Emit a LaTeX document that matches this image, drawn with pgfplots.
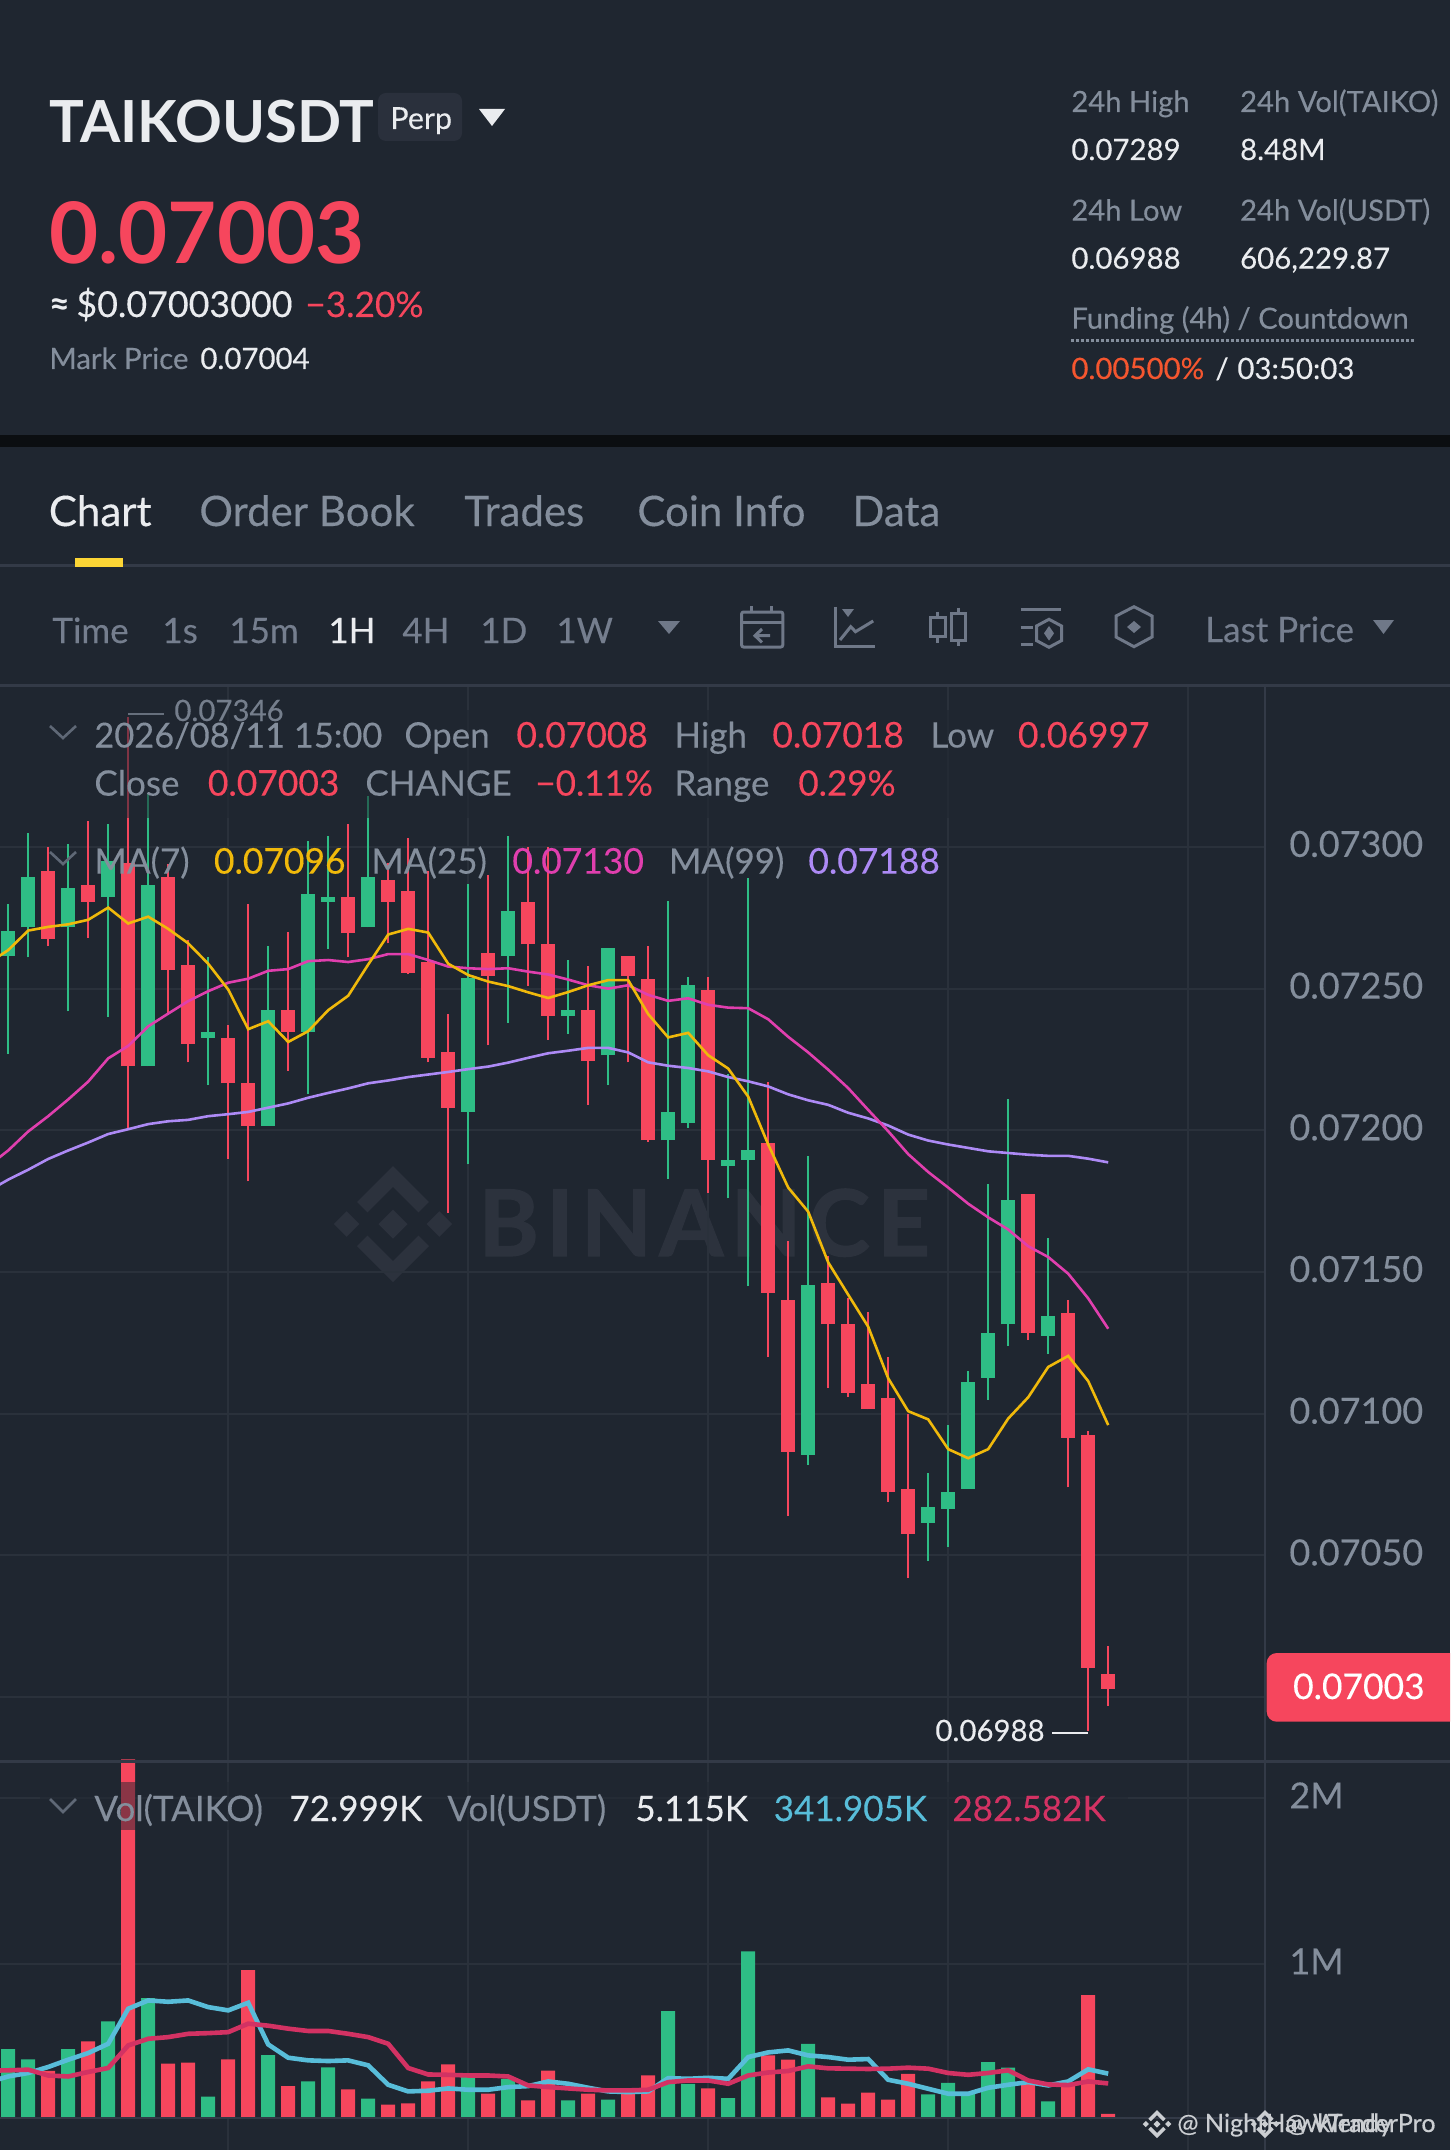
\documentclass[border=0pt]{standalone}
\usepackage{fontspec}
\setmainfont{Lato}[FakeBold=0.25,BoldFeatures={FakeBold=0}]
\newfontfamily\wmfont{Lato Bold}[FakeBold=1.2,LetterSpace=8]
\usepackage{pgfplots}
\usepackage{pgfplotstable}
\pgfplotsset{compat=1.18}
\definecolor{bg}{HTML}{1F2630}
\definecolor{band}{HTML}{0B0E11}
\definecolor{upc}{HTML}{2EBD85}
\definecolor{dnc}{HTML}{F6465D}
\definecolor{gridc}{HTML}{2A313B}
\definecolor{sepc}{HTML}{333A47}
\definecolor{grayt}{HTML}{848E9C}
\definecolor{whitet}{HTML}{EAECEF}
\definecolor{iconc}{HTML}{6F7888}
\definecolor{ma7}{HTML}{F0B90B}
\definecolor{ma25}{HTML}{E03FAE}
\definecolor{ma99}{HTML}{AD8AF5}
\definecolor{volb}{HTML}{58BDD9}
\definecolor{volr}{HTML}{D33263}
\definecolor{wm}{HTML}{2C323D}
\definecolor{fund}{HTML}{F5562F}
\definecolor{pill}{HTML}{2A303C}
\definecolor{tabyellow}{HTML}{FCD535}

% candles: k low high bodybottom bodytop
\pgfplotstableread{
k l h b t
0 0.07227 0.07280 0.072616 0.072705
1 0.07261 0.07305 0.072716 0.072894
3 0.07242 0.07301 0.072716 0.072855
5 0.07240 0.07308 0.072825 0.07295
7 0.072226 0.07319 0.072226 0.072865
10 0.07216 0.07261 0.072326 0.072346
13 0.072017 0.07265 0.072017 0.072425
15 0.07213 0.07302 0.072346 0.072835
16 0.07264 0.07304 0.072805 0.072825
18 0.072716 0.07318 0.072716 0.072894
23 0.07188 0.07287 0.072066 0.072536
25 0.07238 0.07304 0.072616 0.072774
28 0.07234 0.07260 0.072405 0.072425
30 0.07216 0.072644 0.072265 0.072644
33 0.07183 0.07281 0.071965 0.072064
34 0.07201 0.07254 0.072025 0.072514
36 0.07176 0.07220 0.071875 0.071894
37 0.07145 0.07289 0.071896 0.071932
40 0.07082 0.07191 0.070855 0.071453
46 0.07048 0.07079 0.070616 0.070672
47 0.07053 0.07096 0.070664 0.070723
48 0.070735 0.07115 0.070735 0.071113
49 0.07105 0.07181 0.071127 0.071285
50 0.07124 0.07211 0.071315 0.071754
52 0.07121 0.07162 0.071275 0.071344
}\upcandles
\pgfplotstableread{
k l h b t
2 0.07265 0.07300 0.072676 0.072916
4 0.07268 0.07309 0.072806 0.072865
6 0.07201 0.07346 0.072226 0.072945
8 0.07241 0.07294 0.072565 0.072894
9 0.07224 0.07267 0.072306 0.072585
11 0.07190 0.07237 0.072166 0.072326
12 0.07182 0.07280 0.072017 0.072166
14 0.07221 0.07270 0.072346 0.072425
17 0.07261 0.07308 0.072695 0.072825
19 0.07266 0.072945 0.072806 0.072885
20 0.07255 0.07303 0.072555 0.072845
21 0.07224 0.072916 0.072256 0.072595
22 0.07171 0.07241 0.072078 0.072275
24 0.07230 0.07290 0.072545 0.072626
26 0.07251 0.07300 0.072656 0.072805
27 0.07232 0.07300 0.072405 0.072656
29 0.07209 0.07258 0.072246 0.072425
31 0.07224 0.072614 0.072545 0.072614
32 0.07196 0.07265 0.071965 0.072534
35 0.07178 0.07254 0.071896 0.072496
38 0.07120 0.07217 0.071427 0.071954
39 0.07064 0.07161 0.070865 0.071403
41 0.07109 0.071555 0.071315 0.071463
42 0.07106 0.07141 0.071074 0.071315
43 0.071015 0.07136 0.071015 0.071104
44 0.07069 0.07120 0.070725 0.071054
45 0.07042 0.07100 0.070575 0.070733
51 0.07126 0.071774 0.071285 0.071774
53 0.07074 0.07140 0.070916 0.071354
54 0.06988 0.07094 0.070104 0.070924
55 0.06997 0.07018 0.07003 0.07008
}\dncandles
\pgfplotstableread{
k m7 m25 m99
-1 0.07259 0.071874 0.071786
0 0.072636 0.071929 0.071826
1 0.072705 0.071996 0.071861
2 0.072718 0.07205 0.071899
3 0.072727 0.072109 0.071929
4 0.072743 0.072172 0.071957
5 0.072786 0.072254 0.071987
6 0.07273 0.072298 0.072004
7 0.072754 0.072367 0.072022
8 0.072711 0.072412 0.072032
9 0.07266 0.072456 0.072037
10 0.072588 0.072491 0.07205
11 0.072497 0.072521 0.072057
12 0.072357 0.072535 0.072065
13 0.072385 0.072563 0.07208
14 0.072312 0.072569 0.072095
15 0.07235 0.072597 0.072115
16 0.072424 0.072601 0.072132
17 0.072475 0.072594 0.072148
18 0.072585 0.072604 0.072166
19 0.072691 0.072622 0.072176
20 0.072711 0.072622 0.072188
21 0.072698 0.072601 0.072197
22 0.072588 0.072578 0.072206
23 0.072548 0.072572 0.072216
24 0.072525 0.072569 0.072225
25 0.072509 0.072572 0.072239
26 0.072487 0.07256 0.072256
27 0.072467 0.07255 0.072272
28 0.072488 0.072532 0.072281
29 0.072512 0.072512 0.072291
30 0.07253 0.0725 0.072291
31 0.07253 0.072512 0.072275
32 0.07241 0.072478 0.07224
33 0.072328 0.072457 0.072228
34 0.072344 0.072466 0.07222
35 0.072265 0.072443 0.072208
36 0.072218 0.072433 0.072188
37 0.072119 0.072431 0.072173
38 0.07195 0.072392 0.072155
39 0.071798 0.07233 0.072127
40 0.071713 0.072275 0.072106
41 0.071534 0.072214 0.07209
42 0.07142 0.072149 0.072062
43 0.071307 0.072072 0.072042
44 0.071125 0.071997 0.072017
45 0.071009 0.071916 0.071985
46 0.07098 0.071853 0.071964
47 0.070875 0.071798 0.07195
48 0.070843 0.071741 0.071938
49 0.070875 0.071693 0.071926
50 0.070983 0.07165 0.07192
51 0.071058 0.071591 0.071914
52 0.071165 0.071553 0.07191
53 0.071204 0.071494 0.07191
54 0.071115 0.071407 0.0719
55 0.07096 0.0713 0.071887
}\matable
\pgfplotstableread{
k v
0 0.490
1 0.428
3 0.490
5 0.657
7 0.797
10 0.203
13 0.454
15 0.295
16 0.380
18 0.191
23 0.321
25 0.311
28 0.181
30 0.185
33 0.719
34 0.281
36 0.195
37 1.078
40 0.522
46 0.217
47 0.287
48 0.221
49 0.412
50 0.378
52 0.175
}\upvol
\pgfplotstableread{
k v
2 0.358
4 0.536
6 2.235
8 0.402
9 0.408
11 0.428
12 0.966
14 0.267
17 0.247
19 0.155
20 0.163
21 0.295
22 0.398
24 0.221
26 0.181
27 0.360
29 0.221
31 0.221
32 0.331
35 0.253
38 0.452
39 0.426
41 0.199
42 0.161
43 0.227
44 0.185
45 0.341
51 0.291
53 0.281
54 0.815
55 0.100
}\dnvol
\pgfplotstableread{
k bl rd
-1 0.29 0.36
0 0.325 0.362
1 0.346 0.366
2 0.382 0.331
3 0.426 0.325
4 0.466 0.352
5 0.522 0.376
6 0.733 0.512
7 0.783 0.552
8 0.775 0.562
9 0.783 0.582
10 0.743 0.586
11 0.723 0.592
12 0.769 0.643
13 0.518 0.631
14 0.438 0.613
15 0.422 0.599
16 0.418 0.599
17 0.422 0.582
18 0.392 0.562
19 0.275 0.522
20 0.235 0.376
21 0.239 0.337
22 0.253 0.335
23 0.245 0.331
24 0.245 0.331
25 0.261 0.325
26 0.267 0.271
27 0.295 0.261
28 0.281 0.253
29 0.257 0.245
30 0.235 0.241
31 0.231 0.241
32 0.235 0.245
33 0.315 0.291
34 0.311 0.301
35 0.317 0.301
36 0.311 0.281
37 0.442 0.331
38 0.470 0.349
39 0.482 0.358
40 0.452 0.386
41 0.442 0.374
42 0.426 0.372
43 0.430 0.370
44 0.305 0.372
45 0.281 0.378
46 0.251 0.372
47 0.221 0.346
48 0.221 0.335
49 0.257 0.346
50 0.275 0.362
51 0.291 0.301
52 0.271 0.277
53 0.295 0.273
54 0.368 0.295
55 0.342 0.283
}\volma

\newcommand{\T}[5]{\node[anchor=base west,inner sep=0pt,text=#4,font=\fontsize{#3}{#3}\selectfont] at (#1,#2) {#5};}
\newcommand{\binlogo}[4]{%
 \begin{scope}[shift={(#1,#2)},x=#3*0.5pt,y=-#3*0.5pt]
 \fill[#4] (0,-1)--(.62,-.38)--(.44,-.2)--(0,-.64)--(-.44,-.2)--(-.62,-.38)--cycle;
 \fill[#4] (0,1)--(.62,.38)--(.44,.2)--(0,.64)--(-.44,.2)--(-.62,.38)--cycle;
 \fill[#4] (0,-.25)--(.25,0)--(0,.25)--(-.25,0)--cycle;
 \fill[#4] (-.8,-.22)--(-.58,0)--(-.8,.22)--(-1.02,0)--cycle;
 \fill[#4] (.8,-.22)--(1.02,0)--(.8,.22)--(.58,0)--cycle;
 \end{scope}}
\newcommand{\candleplots}[2]{%
 \addplot[draw=none,mark=none,forget plot,error bars/.cd,y dir=plus,y explicit,error mark=none,
   error bar style={draw=#2,line width=1.25pt}]
   table[x=k,y=l,y error expr=\thisrow{h}-\thisrow{l}] {#1};
 \addplot[draw=none,mark=none,forget plot,error bars/.cd,y dir=plus,y explicit,error mark=none,
   error bar style={draw=#2,line width=7pt}]
   table[x=k,y=b,y error expr=\thisrow{t}-\thisrow{b}] {#1};
}
\pgfplotsset{panel/.style={
  scale only axis,width=632.5pt,xmin=-0.41,xmax=62.84,
  axis line style={draw=none},major tick length=0pt,tick style={draw=none},
  xtick={11,23,35,47,59},xticklabel=\empty,scaled y ticks=false,
  xmajorgrids,ymajorgrids,grid style={draw=gridc,line width=1pt},
  yticklabel pos=right,
  yticklabel style={anchor=west,inner sep=0pt,xshift=12pt,yshift=1.5pt,text=grayt,font=\fontsize{18}{18}\selectfont},
}}

\begin{document}
\begin{tikzpicture}
\useasboundingbox (0pt,0pt) rectangle (725pt,-1075pt);
\clip (0pt,0pt) rectangle (725pt,-1075pt);
\begin{scope}[x=0.5pt,y=-0.5pt]
\fill[bg] (0,0) rectangle (1450,2150);
\fill[band] (0,435) rectangle (1450,447);
% watermark
\binlogo{393}{1224}{58}{wm}
\node[anchor=base west,inner sep=0pt,text=wm,font=\fontsize{46}{46}\wmfont] at (478,1256) {BINANCE};
\end{scope}

\begin{axis}[panel,at={(0pt,-880pt)},anchor=south west,height=537pt,
  ymin=0.069778,ymax=0.073568,
  ytick={0.0700,0.0705,0.0710,0.0715,0.0720,0.0725,0.0730},
  yticklabels={,0.07050,0.07100,0.07150,0.07200,0.07250,0.07300}]
\candleplots{\upcandles}{upc}
\candleplots{\dncandles}{dnc}
\addplot[ma99,line width=1.3pt,forget plot] table[x=k,y=m99] {\matable};
\addplot[ma25,line width=1.3pt,forget plot] table[x=k,y=m25] {\matable};
\addplot[ma7,line width=1.3pt,forget plot] table[x=k,y=m7] {\matable};
\end{axis}

\begin{axis}[panel,at={(0pt,-1058.7pt)},anchor=south west,height=183.5pt,
  ymin=0.0783,ymax=2.289,
  ytick={1,2},yticklabels={1M,2M}]
\addplot[ybar,bar width=7pt,bar shift=0pt,fill=upc,draw=none,forget plot] table[x=k,y=v] {\upvol};
\addplot[ybar,bar width=7pt,bar shift=0pt,fill=dnc,draw=none,forget plot] table[x=k,y=v] {\dnvol};
\addplot[volb,line width=2.3pt,forget plot] table[x=k,y=bl] {\volma};
\addplot[volr,line width=2.3pt,forget plot] table[x=k,y=rd] {\volma};
\end{axis}

\begin{scope}[x=0.5pt,y=-0.5pt]
% overlays behind the legends
\fill[bg,opacity=.55] (40,710) rectangle (1160,818);
\fill[bg,opacity=.5] (40,1782) rectangle (1128,1830);
% grid continuation under the volume baseline
\foreach \gx in {228,468,708,948,1188} \draw[gridc,line width=1pt] (\gx,2117) -- (\gx,2150);
% separators
\draw[sepc,line width=1.5pt] (0,565.3) -- (1450,565.3);
\draw[sepc,line width=1.5pt] (0,685) -- (1450,685);
\draw[sepc,line width=1.5pt] (0,1761.5) -- (1450,1761.5);
\draw[sepc,line width=1.2pt] (0,2117.7) -- (1265,2117.7);
\draw[sepc,line width=1.2pt] (1265,686) -- (1265,2150);
\fill[tabyellow] (75,558) rectangle (123,567);

% header, left
\T{49}{143}{29}{whitet}{\bfseries TAIKOUSDT}
\fill[pill,rounded corners=4pt] (378,93) rectangle (462,141);
\T{390}{129}{15.2}{whitet}{Perp}
\fill[whitet] (479,109) -- (505,109) -- (492,126) -- cycle;
\T{49}{264}{42.4}{dnc}{\bfseries 0.07003}
\T{49}{317}{17.9}{whitet}{\bfseries ≈}
\T{76}{317}{17.9}{whitet}{\$0.07003000}
\T{305}{317}{17.6}{dnc}{−3.20\%}
\T{49}{369}{14.7}{grayt}{Mark Price}
\T{200}{369}{14.7}{whitet}{0.07004}
% header, right
\T{1071}{112}{14.6}{grayt}{24h High}
\T{1239.7}{112}{14.6}{grayt}{24h Vol(TAIKO)}
\T{1071}{160}{14.7}{whitet}{0.07289}
\T{1239.7}{160}{14.7}{whitet}{8.48M}
\T{1071}{220.7}{14.6}{grayt}{24h Low}
\T{1239.7}{220.7}{14.6}{grayt}{24h Vol(USDT)}
\T{1071}{268.7}{14.7}{whitet}{0.06988}
\T{1239.7}{268.7}{14.7}{whitet}{606,229.87}
\T{1071}{328.7}{14.6}{grayt}{Funding (4h) / Countdown}
\draw[grayt,line width=1.2pt,dash pattern=on 1.25pt off 1.25pt] (1071,340.7) -- (1416,340.7);
\T{1071}{379}{14.7}{fund}{0.00500\%}
\T{1215}{379}{14.7}{whitet}{/}
\T{1237}{379}{14.7}{whitet}{03:50:03}
% tabs
\T{48.5}{526}{21}{whitet}{Chart}
\T{199}{526}{21}{grayt}{Order Book}
\T{464}{526}{21}{grayt}{Trades}
\T{637}{526}{21}{grayt}{Coin Info}
\T{852}{526}{21}{grayt}{Data}
% timeframe row
\T{52}{643}{17.5}{iconc!70!grayt}{Time}
\T{162}{643}{17.5}{iconc!70!grayt}{1s}
\T{229}{643}{17.5}{iconc!70!grayt}{15m}
\T{328}{643}{17.5}{whitet}{1H}
\T{402}{643}{17.5}{iconc!70!grayt}{4H}
\T{480}{643}{17.5}{iconc!70!grayt}{1D}
\T{556}{643}{17.5}{iconc!70!grayt}{1W}
\fill[iconc] (658,621) -- (680,621) -- (669,634) -- cycle;
% icons
\begin{scope}[iconc,line width=1.5pt]
\draw[rounded corners=1pt] (741.6,612) rectangle (782.8,647);
\draw (741.6,622) -- (782.8,622);
\draw (751.7,606) -- (751.7,612) (771.8,606) -- (771.8,612);
\draw (770,635.7) -- (755,635.7) (762,629) -- (755,635.7) -- (762,642.4);
\draw (835.4,606.7) -- (835.4,646) -- (875,646);
\draw (840,640) -- (850.7,626.7) -- (855.5,631.7) -- (873.2,621);
\fill (842,609) -- (854,609) -- (848,617) -- cycle;
\draw (930.6,617) rectangle (945.5,636);
\draw (937.8,611.7) -- (937.8,617) (937.8,636) -- (937.8,642.7);
\draw (951,613) rectangle (965.5,640);
\draw (958,607.7) -- (958,613) (958,640) -- (958,646);
\draw (1020.6,609) -- (1061,609);
\draw (1020.6,627) -- (1032.5,627) (1020.6,644.7) -- (1032.5,644.7);
\draw (1049,619.3) -- (1061.5,626) -- (1061.5,640.6) -- (1049,647.3) -- (1036.5,640.6) -- (1036.5,626) -- cycle;
\fill (1049,626) -- (1054,633.3) -- (1049,640.6) -- (1044,633.3) -- cycle;
\draw (1134,606.7) -- (1152,616) -- (1152,637) -- (1134,646.7) -- (1116,637) -- (1116,616) -- cycle;
\fill (1134,621) -- (1141,627) -- (1134,633) -- (1127,627) -- cycle;
\end{scope}
\T{1204.8}{642}{17.5}{iconc!70!grayt}{Last Price}
\fill[iconc] (1373,620) -- (1394,620) -- (1383.5,634) -- cycle;

% chart legends
\draw[iconc!80!bg,line width=1.3pt] (50,726) -- (63,738) -- (76,726);
\T{94}{747.5}{17.2}{grayt}{2026/08/11 15:00}
\T{404}{747.5}{17.5}{grayt}{Open}
\T{516}{747.5}{17.7}{dnc}{0.07008}
\T{674}{747.5}{17.5}{grayt}{High}
\T{772}{747.5}{17.7}{dnc}{0.07018}
\T{930}{747.5}{17.5}{grayt}{Low}
\T{1017.6}{747.5}{17.7}{dnc}{0.06997}
\T{94}{795.6}{17.5}{grayt}{Close}
\T{207.5}{795.6}{17.7}{dnc}{0.07003}
\T{365}{795.6}{17.5}{grayt}{CHANGE}
\T{535}{795.6}{17.5}{dnc}{−0.11\%}
\T{674}{795.6}{17.5}{grayt}{Range}
\T{798}{795.6}{17.5}{dnc}{0.29\%}
\draw[iconc!80!bg,line width=1.3pt] (50,852) -- (63,864) -- (76,852);
\T{94}{873.6}{17.5}{grayt}{MA(7)}
\T{213.6}{873.6}{17.7}{ma7}{0.07096}
\T{371}{873.6}{17.5}{grayt}{MA(25)}
\T{512}{873.6}{17.7}{ma25}{0.07130}
\T{668.5}{873.6}{17.5}{grayt}{MA(99)}
\T{808}{873.6}{17.7}{ma99}{0.07188}
% high / low markers
\draw[grayt!70!bg,line width=1.3pt] (128,714) -- (164,714);
\T{174}{721}{14.7}{grayt!85!bg}{0.07346}
\T{935}{1741}{14.7}{whitet}{0.06988}
\draw[whitet,line width=1pt] (1052,1732.6) -- (1088,1732.6);
% last price tag
\fill[dnc,rounded corners=5pt] (1266.7,1653) rectangle (1460,1721.7);
\T{1292.7}{1699}{17.7}{white}{0.07003}
% volume legend
\draw[iconc!80!bg,line width=1.3pt] (50,1799) -- (63,1812) -- (76,1799);
\T{94}{1821}{17.5}{grayt}{Vol(TAIKO)}
\T{289}{1821}{17.5}{whitet}{72.999K}
\T{447}{1821}{17.5}{grayt}{Vol(USDT)}
\T{635}{1821}{17.5}{whitet}{5.115K}
\T{773.4}{1821}{17.5}{volb}{341.905K}
\T{952}{1821}{17.5}{volr}{282.582K}
% footer marks
\binlogo{1157}{2124}{14}{whitet!85!bg}
\T{1177}{2132}{12.6}{whitet!85!bg}{@ NightHawkTraderPro}
\binlogo{1265}{2124}{14}{whitet!85!bg}
\T{1285}{2132}{12.6}{whitet!85!bg}{@ Wendy}
\end{scope}
\end{tikzpicture}
\end{document}
